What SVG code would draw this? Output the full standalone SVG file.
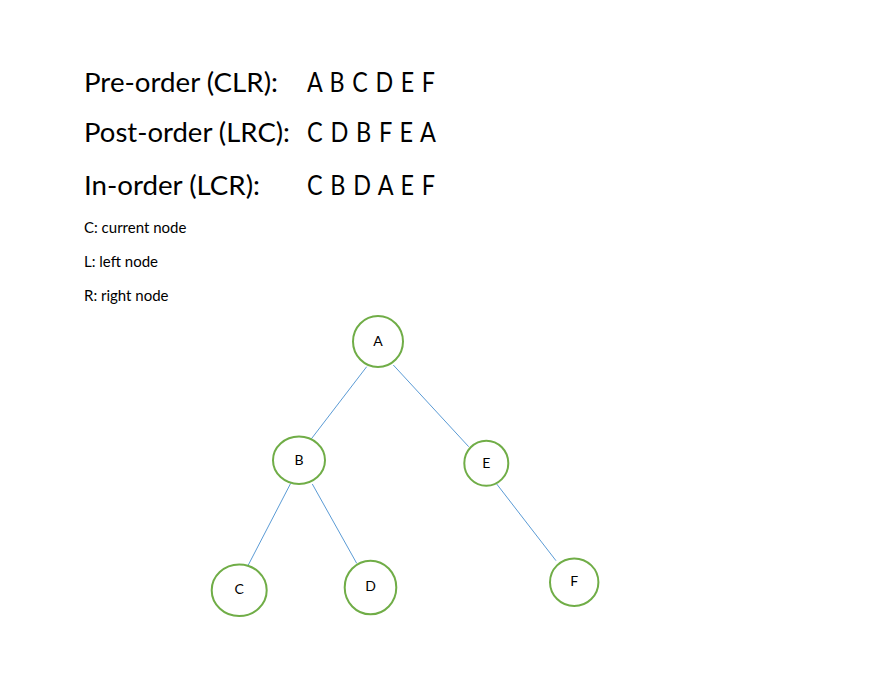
<svg xmlns="http://www.w3.org/2000/svg" width="883" height="673" viewBox="0 0 883 673">
<style>
.big{font-family:Lato,"Open Sans","Liberation Sans",sans-serif;font-size:27.5px;fill:#000}
.seq{font-family:Lato,"Open Sans","Liberation Sans",sans-serif;font-size:27px;fill:#000;word-spacing:2px}
.small{font-family:Lato,"Open Sans","Liberation Sans",sans-serif;font-size:15px;fill:#000}
.node ellipse{fill:#fff;stroke:#70ad47;stroke-width:2}
.node text{font-family:Lato,"Open Sans","Liberation Sans",sans-serif;font-size:14px;fill:#000;text-anchor:middle}
.edges line{stroke:#5b9bd5;stroke-width:1}
</style>
<rect width="883" height="673" fill="#fff"/>
<g id="legend">
<text class="big" x="84" y="92" textLength="194" lengthAdjust="spacingAndGlyphs">Pre-order (CLR):</text>
<text class="seq" x="307" y="92" textLength="128" lengthAdjust="spacingAndGlyphs">A B C D E F</text>
<text class="big" x="84" y="142" textLength="206" lengthAdjust="spacingAndGlyphs">Post-order (LRC):</text>
<text class="seq" x="307" y="142" textLength="129" lengthAdjust="spacingAndGlyphs">C D B F E A</text>
<text class="big" x="84" y="195" textLength="176" lengthAdjust="spacingAndGlyphs">In-order (LCR):</text>
<text class="seq" x="307" y="195" textLength="128" lengthAdjust="spacingAndGlyphs">C B D A E F</text>
<text class="small" x="84" y="233">C: current node</text>
<text class="small" x="84" y="267">L: left node</text>
<text class="small" x="84" y="301">R: right node</text>
</g>
<g id="connectors" class="edges">
<line x1="366.7" y1="366.7" x2="311" y2="439.3"/>
<line x1="393.3" y1="365" x2="468.7" y2="446.7"/>
<line x1="290.7" y1="483.3" x2="248.3" y2="565"/>
<line x1="312.3" y1="484" x2="356.7" y2="563.3"/>
<line x1="496.7" y1="484" x2="556" y2="560.7"/>
</g>
<g id="node-A" class="node"><ellipse cx="378" cy="341.5" rx="25" ry="25.5"/><text x="378" y="345.5">A</text></g>
<g id="node-B" class="node"><ellipse cx="299" cy="460.3" rx="26" ry="23.7"/><text x="299" y="464.5">B</text></g>
<g id="node-E" class="node"><ellipse cx="486.3" cy="463.2" rx="22" ry="22.5"/><text x="486.3" y="468">E</text></g>
<g id="node-C" class="node"><ellipse cx="239.2" cy="590.2" rx="27.5" ry="25.8"/><text x="239.2" y="594">C</text></g>
<g id="node-D" class="node"><ellipse cx="370.5" cy="587.5" rx="25.8" ry="26.8"/><text x="370.5" y="590.5">D</text></g>
<g id="node-F" class="node"><ellipse cx="574.2" cy="582.2" rx="24.2" ry="23.8"/><text x="574.2" y="586">F</text></g>
</svg>
